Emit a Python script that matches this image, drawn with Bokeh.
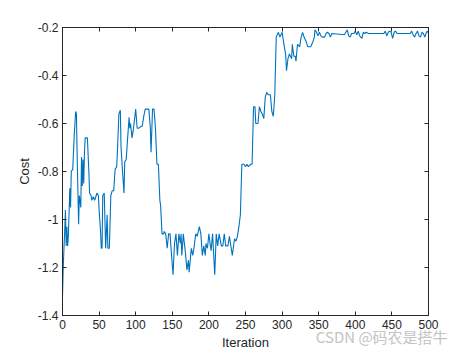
from bokeh.plotting import figure
from bokeh.models import (LinearAxis, FixedTicker, CustomJSTickFormatter, Range1d, Label)
from bokeh.embed import file_html
from bokeh.resources import INLINE

# Data (iteration, cost) vertices
iterations = [0, 1, 2, 3, 4, 5, 6, 7, 8, 10, 11, 12, 14, 16, 18, 19, 20, 22, 23, 25,
              26, 27, 28, 29, 30, 31, 34, 36, 37, 39, 40, 42, 44, 46, 47, 49, 50, 52, 53, 54,
              55, 57, 59, 61, 62, 64, 66, 68, 70, 71, 72, 74, 75, 77, 79, 80, 82, 84, 85, 87,
              89, 91, 92, 93, 95, 97, 100, 102, 104, 106, 109, 111, 113, 116, 118, 120, 121, 123, 125, 127,
              129, 131, 133, 134, 136, 138, 139, 141, 143, 145, 147, 148, 151, 153, 155, 157, 159, 161, 162, 163,
              165, 168, 170, 172, 173, 176, 178, 180, 182, 184, 187, 189, 191, 193, 195, 196, 198, 200, 202, 203,
              205, 208, 210, 212, 214, 217, 219, 221, 223, 226, 228, 230, 232, 235, 237, 239, 241, 243, 245, 248,
              250, 252, 254, 257, 259, 261, 263, 264, 267, 269, 271, 273, 275, 277, 279, 281, 284, 286, 288, 290,
              292, 295, 297, 300, 301, 302, 305, 306, 308, 310, 313, 314, 316, 318, 319, 321, 324, 326, 328, 330,
              333, 335, 339, 342, 344, 345, 347, 349, 351, 353, 355, 358, 360, 362, 364, 366, 368, 385, 387, 389,
              391, 393, 395, 398, 400, 402, 404, 406, 409, 411, 413, 415, 418, 439, 441, 443, 445, 447, 449, 451,
              453, 455, 457, 475, 477, 479, 481, 483, 485, 487, 489, 491, 493, 495, 497, 499, 500]
cost = [-1.32, -1.20, -1.12, -1.05, -0.96, -1.11, -1.03, -1.11, -1.07, -0.87, -0.95, -0.80, -0.79, -0.65, -0.55, -0.56, -0.73, -1.02, -0.90, -0.95,
        -0.74, -0.86, -0.75, -0.85, -0.72, -0.66, -0.66, -0.80, -0.89, -0.90, -0.92, -0.905, -0.92, -0.90, -0.89, -0.90, -0.96, -1.05, -1.12, -1.12,
        -0.90, -0.89, -1.12, -0.98, -1.12, -1.12, -0.90, -0.88, -0.88, -0.83, -0.79, -0.78, -0.72, -0.56, -0.545, -0.70, -0.80, -0.89, -0.76, -0.75,
        -0.66, -0.574, -0.62, -0.60, -0.66, -0.62, -0.54, -0.62, -0.62, -0.615, -0.61, -0.57, -0.54, -0.54, -0.54, -0.62, -0.72, -0.54, -0.54, -0.62,
        -0.77, -0.77, -0.92, -0.94, -1.06, -1.06, -1.05, -1.06, -1.12, -1.06, -1.06, -1.11, -1.23, -1.10, -1.06, -1.15, -1.06, -1.10, -1.06, -1.15,
        -1.06, -1.14, -1.21, -1.17, -1.22, -1.12, -1.15, -1.11, -1.06, -1.07, -1.03, -1.06, -1.15, -1.11, -1.15, -1.10, -1.12, -1.06, -1.11, -1.13,
        -1.06, -1.23, -1.06, -1.11, -1.06, -1.11, -1.11, -1.06, -1.11, -1.11, -1.07, -1.11, -1.15, -1.08, -1.09, -1.07, -1.03, -0.98, -0.77, -0.77,
        -0.78, -0.77, -0.78, -0.77, -0.77, -0.53, -0.53, -0.60, -0.60, -0.53, -0.55, -0.56, -0.58, -0.49, -0.47, -0.48, -0.48, -0.55, -0.57, -0.48,
        -0.24, -0.22, -0.24, -0.22, -0.24, -0.26, -0.316, -0.38, -0.33, -0.31, -0.33, -0.27, -0.32, -0.32, -0.34, -0.27, -0.28, -0.24, -0.22, -0.24,
        -0.26, -0.28, -0.28, -0.26, -0.24, -0.21, -0.22, -0.235, -0.22, -0.235, -0.24, -0.24, -0.225, -0.22, -0.225, -0.24, -0.225, -0.23, -0.22, -0.21,
        -0.235, -0.24, -0.225, -0.225, -0.215, -0.23, -0.215, -0.235, -0.245, -0.22, -0.225, -0.22, -0.225, -0.225, -0.215, -0.235, -0.22, -0.215, -0.22, -0.245,
        -0.22, -0.215, -0.225, -0.225, -0.215, -0.23, -0.24, -0.225, -0.215, -0.235, -0.24, -0.22, -0.225, -0.24, -0.22, -0.215, -0.225]

x_ticks = [0, 50, 100, 150, 200, 250, 300, 350, 400, 450, 500]
y_ticks = [-1.4, -1.2, -1.0, -0.8, -0.6, -0.4, -0.2]
x_label = "Iteration"
y_label = "Cost"
watermark = "CSDN @码农是搭牛"

FONT = "Liberation Sans"
AX = "#262626"

p = figure(width=474, height=355, output_backend="svg", toolbar_location=None,
           x_range=Range1d(0, 500), y_range=Range1d(-1.4, -0.2),
           min_border_left=62, min_border_right=46, min_border_top=27, min_border_bottom=40,
           x_axis_label=x_label, y_axis_label=y_label)

p.background_fill_color = "white"
p.border_fill_color = "white"
p.outline_line_color = AX
p.outline_line_width = 1
p.grid.visible = False

p.line(iterations, cost, line_color="#0072BD", line_width=1.1)

yfmt = CustomJSTickFormatter(code="return String(Math.round(tick*10)/10);")

def style(ax, labels=True):
    ax.axis_line_color = AX
    ax.major_tick_line_color = AX
    ax.major_tick_in = 4
    ax.major_tick_out = 0
    ax.minor_tick_line_color = None
    ax.major_label_text_font = FONT
    ax.major_label_text_font_size = "12px" if labels else "0px"
    ax.major_label_text_color = AX if labels else None
    ax.major_label_standoff = 4 if labels else 0
    ax.axis_label_text_font = FONT
    ax.axis_label_text_font_size = "13px"
    ax.axis_label_text_font_style = "normal"
    ax.axis_label_text_color = AX
    ax.axis_label_standoff = 3

for ax in p.xaxis:
    ax.ticker = FixedTicker(ticks=x_ticks)
    style(ax)
for ax in p.yaxis:
    ax.ticker = FixedTicker(ticks=y_ticks)
    ax.formatter = yfmt
    style(ax)

top = LinearAxis(ticker=FixedTicker(ticks=x_ticks))
style(top, labels=False)
p.add_layout(top, "above")
right = LinearAxis(ticker=FixedTicker(ticks=y_ticks))
style(right, labels=False)
p.add_layout(right, "right")

# watermark: placed in a side panel (so it is not clipped by the frame),
# positioned with the data scales below the x axis
wm = Label(x=346, y=-1.53, text=watermark,
           text_font="Noto Sans CJK SC", text_font_size="15px",
           text_color="#c4c4c4")
p.add_layout(wm, "above")

open("out.html", "w").write(file_html(p, INLINE))
